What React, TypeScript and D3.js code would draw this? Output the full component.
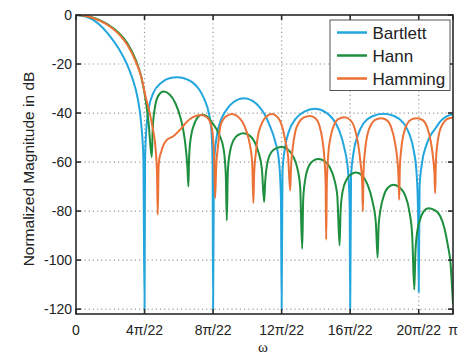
import { useEffect, useRef } from 'react';
import * as d3 from 'd3';

// x is omega in units of pi/22, y is magnitude in dB
const bartlett: [number, number][] = [
  [0, 0], [0.5, -0.5], [1, -2.0], [1.5, -4.8], [2, -8.8], [2.5, -13.8], [3, -20.5], [3.3, -26],
  [3.6, -34], [3.8, -44], [3.93, -58], [4, -120],
  [4.03, -60], [4.1, -47], [4.25, -38], [4.5, -32], [5, -27.5], [5.5, -25.7], [5.9, -25.4],
  [6.3, -25.8], [6.8, -27.5], [7.2, -30.5], [7.5, -34.5], [7.75, -40], [7.9, -47], [7.97, -60], [8, -120],
  [8.05, -62], [8.2, -50], [8.45, -43], [8.8, -38.5], [9.2, -35.5], [9.8, -34], [10.3, -35],
  [10.7, -37.5], [11, -40.5], [11.3, -45], [11.6, -51], [11.85, -60], [11.96, -75], [12, -120],
  [12.05, -64], [12.2, -54], [12.45, -47], [12.8, -42.5], [13.3, -39.5], [13.95, -38.3],
  [14.6, -39.8], [15, -42.5], [15.35, -47], [15.65, -54], [15.88, -64], [15.97, -78], [16, -120],
  [16.05, -66], [16.2, -56], [16.45, -49], [16.8, -44], [17.3, -41.3], [17.95, -40.3],
  [18.6, -41.3], [19.1, -44], [19.45, -48.5], [19.7, -55], [19.88, -65], [19.96, -80], [20, -113],
  [20.05, -70], [20.2, -60], [20.45, -53], [20.7, -49], [21, -46], [21.25, -43.5], [21.6, -41.5], [22, -40.5],
];

const hann: [number, number][] = [
  [0, 0], [0.5, -0.3], [1, -1.1], [1.5, -2.5], [2, -4.5], [2.5, -7.3], [3, -11.5], [3.5, -18.5],
  [3.8, -25], [4.05, -34], [4.25, -45], [4.42, -58],
  [4.48, -46], [4.6, -38], [4.8, -33], [5.1, -31.2], [5.45, -32.3], [5.8, -36], [6.1, -42],
  [6.35, -51], [6.5, -62], [6.56, -70],
  [6.6, -58], [6.7, -50], [6.9, -44.5], [7.1, -41.8], [7.34, -40.7], [7.6, -41.2], [7.9, -43.5],
  [8.1, -45.5], [8.4, -49.5], [8.62, -55], [8.74, -65], [8.8, -83.8],
  [8.86, -64], [8.98, -56], [9.2, -51], [9.5, -48.8], [9.77, -48.2], [10.1, -49], [10.4, -51.5],
  [10.65, -56], [10.85, -63], [10.98, -76.3],
  [11.04, -68], [11.15, -61], [11.4, -56], [11.7, -54.3], [12.01, -53.9], [12.35, -54.8],
  [12.65, -57.5], [12.9, -62], [13.08, -70], [13.2, -95.4],
  [13.26, -75], [13.38, -67], [13.6, -61.5], [13.9, -59.2], [14.15, -58.8], [14.5, -59.6],
  [14.8, -62], [15.05, -66.5], [15.25, -74], [15.38, -94],
  [15.44, -80], [15.56, -72], [15.8, -67], [16.1, -64.8], [16.35, -64.3], [16.7, -65.5],
  [17, -69], [17.3, -76], [17.5, -85], [17.6, -99],
  [17.66, -86], [17.78, -79], [17.95, -74], [18.2, -70.5], [18.53, -69.3], [18.9, -70.5],
  [19.2, -73.5], [19.45, -80], [19.62, -90], [19.74, -112],
  [19.8, -98], [19.9, -89], [20.1, -83], [20.3, -80], [20.57, -78.8], [20.9, -79.5],
  [21.25, -82], [21.5, -87], [21.7, -94], [21.85, -101], [22, -118],
];

const hamming: [number, number][] = [
  [0, 0], [0.5, -0.3], [1, -1.2], [1.5, -2.7], [2, -4.8], [2.5, -7.8], [3, -12.2], [3.5, -19.2],
  [3.8, -25], [4.05, -33], [4.3, -40], [4.5, -47], [4.65, -55], [4.73, -65], [4.77, -81.5],
  [4.82, -62], [4.88, -58], [4.97, -56], [5.05, -54], [5.3, -51], [5.68, -49.5], [6.05, -47],
  [6.45, -43.7], [6.85, -41.6], [7.3, -40.8], [7.65, -41.8], [7.85, -44], [7.98, -49], [8.06, -58], [8.12, -74.7],
  [8.18, -62], [8.28, -54], [8.42, -45.5], [8.6, -42.5], [8.85, -41], [9.1, -40.4], [9.4, -41.2],
  [9.7, -43.5], [9.95, -47.5], [10.15, -53], [10.28, -60], [10.35, -76.7],
  [10.4, -64], [10.5, -56], [10.6, -50], [10.8, -45], [11, -42.3], [11.43, -40.4], [11.85, -42.5],
  [12.05, -46], [12.22, -51.5], [12.38, -58], [12.5, -71.6],
  [12.55, -62], [12.65, -54], [12.8, -47.5], [13, -44], [13.3, -41.8], [13.66, -41.2], [14, -42.3],
  [14.2, -45], [14.38, -51], [14.5, -59], [14.57, -70], [14.6, -91.7],
  [14.64, -68], [14.72, -57], [14.85, -50], [15.05, -45], [15.3, -42.5], [15.67, -41.7], [16, -42.8],
  [16.25, -46], [16.45, -52], [16.6, -60], [16.7, -68], [16.74, -80.1],
  [16.78, -64], [16.87, -55], [17, -49], [17.2, -45], [17.45, -42.8], [17.8, -42.1], [18.15, -43],
  [18.4, -46], [18.6, -51.5], [18.75, -59], [18.82, -66], [18.86, -75.4],
  [18.9, -62], [18.99, -54], [19.12, -48.5], [19.32, -44.5], [19.58, -42.6], [19.9, -42.1], [20.25, -43],
  [20.5, -46], [20.7, -51.5], [20.85, -59], [20.92, -65], [20.96, -72.7],
  [21, -60], [21.08, -53], [21.2, -48], [21.4, -44.5], [21.65, -42.5], [22, -41.8],
];

const seriesNames = ['Bartlett', 'Hann', 'Hamming'];
const seriesColors = ['#22a6dd', '#1e8f3e', '#ec7136'];
const freqTicks = [0, 4, 8, 12, 16, 20, 22];
const freqTickLabels = ['0', '4π/22', '8π/22', '12π/22', '16π/22', '20π/22', 'π'];
const dbTicks = [0, -20, -40, -60, -80, -100, -120];

export default function App() {
  const svgRef = useRef<SVGSVGElement>(null);

  useEffect(() => {
    if (!svgRef.current) return;
    const svg = d3.select(svgRef.current);
    svg.selectAll('*').remove();

    const left = 76, right = 453, top = 15, bottom = 314;
    const x = d3.scaleLinear().domain([0, 22]).range([left, right]);
    const y = d3.scaleLinear().domain([-122, 0]).range([bottom, top]);
    const font = 'Arial, "Liberation Sans", sans-serif';

    svg.append('rect').attr('width', 474).attr('height', 361).attr('fill', '#fff');

    // grid
    const grid = svg.append('g').attr('stroke', '#9a9a9a').attr('stroke-width', 1.2).attr('stroke-dasharray', '1.2,3');
    freqTicks.slice(1, -1).forEach((t) => {
      grid.append('line').attr('x1', x(t)).attr('x2', x(t)).attr('y1', top).attr('y2', bottom);
    });
    dbTicks.slice(1).forEach((t) => {
      grid.append('line').attr('x1', left).attr('x2', right).attr('y1', y(t)).attr('y2', y(t));
    });

    svg.append('clipPath').attr('id', 'plotclip')
      .append('rect').attr('x', left).attr('y', top).attr('width', right - left).attr('height', bottom - top);

    const line = d3.line<[number, number]>()
      .x((d) => x(d[0]))
      .y((d) => y(d[1]))
      .curve(d3.curveMonotoneX);

    [bartlett, hann, hamming].forEach((pts, i) => {
      svg.append('path')
        .datum(pts)
        .attr('clip-path', 'url(#plotclip)')
        .attr('fill', 'none')
        .attr('stroke', seriesColors[i])
        .attr('stroke-width', 2)
        .attr('stroke-linejoin', 'round')
        .attr('d', line);
    });

    // axes box + inward ticks
    const ax = svg.append('g').attr('stroke', '#2a2a2a').attr('stroke-width', 1.6);
    ax.append('rect').attr('x', left).attr('y', top).attr('width', right - left).attr('height', bottom - top).attr('fill', 'none');
    freqTicks.forEach((t) => {
      ax.append('line').attr('x1', x(t)).attr('x2', x(t)).attr('y1', bottom).attr('y2', bottom - 5);
      ax.append('line').attr('x1', x(t)).attr('x2', x(t)).attr('y1', top).attr('y2', top + 5);
    });
    dbTicks.forEach((t) => {
      ax.append('line').attr('x1', left).attr('x2', left + 5).attr('y1', y(t)).attr('y2', y(t));
      ax.append('line').attr('x1', right).attr('x2', right - 5).attr('y1', y(t)).attr('y2', y(t));
    });

    // tick labels
    svg.append('g').selectAll('text').data(freqTicks).enter().append('text')
      .attr('x', (d) => x(d)).attr('y', 335)
      .attr('text-anchor', 'middle')
      .style('font-family', font).style('font-size', '14px').style('fill', '#222')
      .text((_, i) => freqTickLabels[i]);
    svg.append('g').selectAll('text').data(dbTicks).enter().append('text')
      .attr('x', left - 4).attr('y', (d) => y(d) + 5)
      .attr('text-anchor', 'end')
      .style('font-family', font).style('font-size', '14px').style('fill', '#222')
      .text((d) => String(d));

    svg.append('text')
      .attr('x', 263).attr('y', 352).attr('text-anchor', 'middle')
      .style('font-family', '"Liberation Serif", serif').style('font-size', '15px').style('fill', '#222')
      .text('ω');
    svg.append('text')
      .attr('transform', 'translate(34,169) rotate(-90)').attr('text-anchor', 'middle')
      .style('font-family', font).style('font-size', '15.5px').style('fill', '#222')
      .text('Normalized Magnitude in dB');

    // legend
    const lg = svg.append('g');
    lg.append('rect').attr('x', 330).attr('y', 20).attr('width', 120).attr('height', 70.5)
      .attr('fill', '#fff').attr('stroke', '#555').attr('stroke-width', 1);
    seriesNames.forEach((name, i) => {
      const cy = 32.5 + i * 23;
      lg.append('line').attr('x1', 337).attr('x2', 367).attr('y1', cy).attr('y2', cy)
        .attr('stroke', seriesColors[i]).attr('stroke-width', 2.5);
      lg.append('text').attr('x', 372.5).attr('y', cy + 6)
        .style('font-family', font).style('font-size', '17px').style('fill', '#222')
        .text(name);
    });
  }, []);

  return (
    <svg ref={svgRef} width={474} height={361} style={{ position: 'absolute', left: 0, top: 0 }} />
  );
}
